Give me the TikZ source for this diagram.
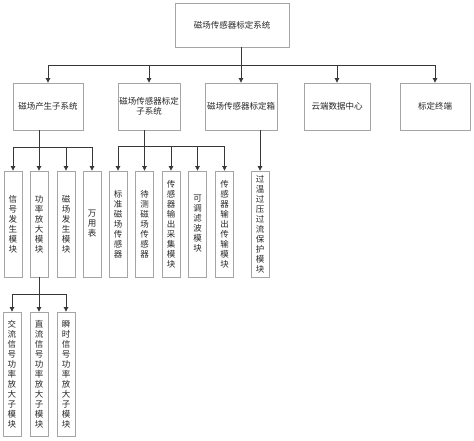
\documentclass[tikz,border=0pt]{standalone}
\usepackage{fontspec}
\usetikzlibrary{arrows.meta,positioning}
\newfontfamily\cjk{Noto Sans CJK SC}
\definecolor{boxgray}{RGB}{165,165,165}
\definecolor{linedark}{RGB}{55,55,55}

\begin{document}
\begin{tikzpicture}[x=1pt, y=-1pt,
  every node/.style={font=\cjk\fontsize{8.5}{10}\selectfont, text=black!85},
  box/.style={draw=boxgray, line width=0.8pt, fill=white, minimum width=70pt, minimum height=47pt, align=center, inner sep=1pt},
  vbox/.style={draw=boxgray, line width=0.8pt, fill=white, minimum width=18pt, minimum height=106pt, align=center, inner sep=1pt},
  link/.style={draw=linedark, line width=0.7pt},
  arrow/.style={link, -{Triangle[length=4.5pt,width=4.5pt]}}
]
  \useasboundingbox (0,0) rectangle (474,440);

  % top level
  \node[box, minimum width=114pt, minimum height=44pt] (sys) at (232,25) {磁场传感器标定系统};

  \node[box] (gen) at (48,106.5) {磁场产生子系统};
  \node[box, minimum width=62pt] (cal) at (149,106.5) {磁场传感器标定\\子系统};
  \node[box, minimum width=72pt] (calbox) at (241,106.5) {磁场传感器标定箱};
  \node[box, minimum width=66pt] (cloud) at (337,106.5) {云端数据中心};
  \node[box] (term) at (435,106.5) {标定终端};

  \coordinate (busT) at (0,65);
  \draw[arrow] (sys.south -| calbox) -- (calbox.north);
  \draw[link] (gen.north |- busT) -- (term.north |- busT);
  \foreach \n in {gen,cal,cloud,term}
    \draw[arrow] (\n.north |- busT) -- (\n.north);

  % modules of the field generation subsystem
  \node[vbox] (sig) at (13,224) {信\\号\\发\\生\\模\\块};
  \node[vbox] (amp) at (39,224) {功\\率\\放\\大\\模\\块};
  \node[vbox] (field) at (66,224) {磁\\场\\发\\生\\模\\块};
  \node[vbox] (meter) at (92,224) {万\\用\\表};

  \coordinate (busA) at (0,147);
  \draw[arrow] (gen.south -| amp) -- (amp.north);
  \draw[link] (sig.north |- busA) -- (meter.north |- busA);
  \foreach \n in {sig,field,meter}
    \draw[arrow] (\n.north |- busA) -- (\n.north);

  % modules of the calibration subsystem
  \node[vbox] (std) at (118,224) {标\\准\\磁\\场\\传\\感\\器};
  \node[vbox] (dut) at (144.5,224) {待\\测\\磁\\场\\传\\感\\器};
  \node[vbox] (acq) at (171,224) {传\\感\\器\\输\\出\\采\\集\\模\\块};
  \node[vbox] (filt) at (197.5,224) {可\\调\\滤\\波\\模\\块};
  \node[vbox] (trans) at (224.5,224) {传\\感\\器\\输\\出\\传\\输\\模\\块};

  \coordinate (busB) at (0,146);
  \draw[arrow] (cal.south -| dut) -- (dut.north);
  \draw[link] (std.north |- busB) -- (trans.north |- busB);
  \foreach \n in {std,acq,filt,trans}
    \draw[arrow] (\n.north |- busB) -- (\n.north);

  % calibration box
  \node[vbox] (prot) at (260,224) {过\\温\\过\\压\\过\\流\\保\\护\\模\\块};
  \draw[arrow] (calbox.south -| prot) -- (prot.north);

  % power amplifier sub-modules
  \node[vbox, minimum height=124pt] (ac) at (12,374) {交\\流\\信\\号\\功\\率\\放\\大\\子\\模\\块};
  \node[vbox, minimum height=124pt] (dc) at (39,374) {直\\流\\信\\号\\功\\率\\放\\大\\子\\模\\块};
  \node[vbox, minimum height=124pt] (inst) at (66,374) {瞬\\时\\信\\号\\功\\率\\放\\大\\子\\模\\块};

  \coordinate (busC) at (0,294);
  \draw[arrow] (amp.south) -- (dc.north);
  \draw[link] (ac.north |- busC) -- (inst.north |- busC);
  \foreach \n in {ac,inst}
    \draw[arrow] (\n.north |- busC) -- (\n.north);
\end{tikzpicture}
\end{document}
